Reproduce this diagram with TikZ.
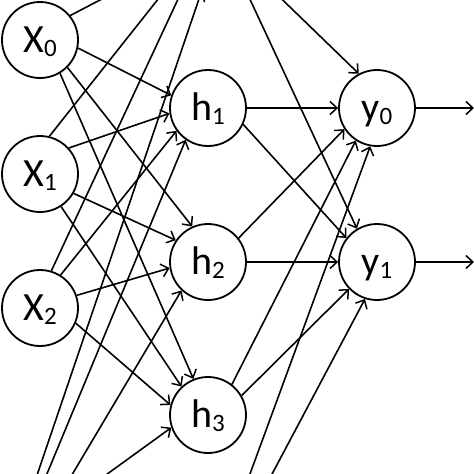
\documentclass[tikz,border=0pt]{standalone}
\usepackage{fontspec}
\setmainfont{Carlito}
\usetikzlibrary{arrows.meta}
\newcommand\lbl[2]{#1\raisebox{-4pt}{\fontsize{25}{25}\selectfont #2}}
\begin{document}
\begin{tikzpicture}[x=1pt,y=-1pt,
  neuron/.style={circle,draw,line width=1.8pt,minimum size=76pt,inner sep=0pt,
    font=\fontsize{40}{40}\selectfont,text height=24pt,text depth=0pt},
  conn/.style={line width=1.6pt,-{Straight Barb[length=7pt,width=13pt,line width=1.5pt]}}]
\useasboundingbox (0,0) rectangle (474,474);
\clip (0,0) rectangle (474,474);
% input layer
\node[neuron] (X0) at (40,40) {\lbl{X}{0}};
\node[neuron] (X1) at (40,174) {\lbl{X}{1}};
\node[neuron] (X2) at (40,308) {\lbl{X}{2}};
\node[neuron] (Xb) at (42,513) {};
% hidden layer
\node[neuron] (h0) at (208,-46) {};
\node[neuron] (h1) at (208,108) {\lbl{h}{1}};
\node[neuron] (h2) at (208,262) {\lbl{h}{2}};
\node[neuron] (h3) at (208,415) {\lbl{h}{3}};
\node[neuron] (h4) at (208,569) {};
% output layer
\node[neuron] (y0) at (377,108) {\lbl{y}{0}};
\node[neuron] (y1) at (377,262) {\lbl{y}{1}};
\coordinate (o0) at (474,108);
\coordinate (o1) at (474,262);
% input -> hidden
\draw[conn] (X0.39) -- (h0.194);
\draw[conn] (X0.-12) -- (h1.161);
\draw[conn] (X0.-45) -- (h2.114);
\draw[conn] (X0.-59) -- (h3.112);
\draw[conn] (X1.76) -- (h0.215);
\draw[conn] (X1.42) -- (h1.188);
\draw[conn] (X1.-30) -- (h2.146);
\draw[conn] (X1.-57) -- (h3.133);
\draw[conn] (X2.73) -- (h0.233);
\draw[conn] (X2.58) -- (h1.216);
\draw[conn] (X2.19) -- (h2.189);
\draw[conn] (X2.-23) -- (h3.165);
\draw[conn] (Xb.97) -- (h0.260);
\draw[conn] (Xb.83) -- (h1.235);
\draw[conn] (Xb.50) -- (h2.227);
\draw[conn] (Xb.26) -- (h3.199);
% hidden -> output
\draw[conn] (h0.-15) -- (y0.118);
\draw[conn] (h0.-36) -- (y1.121);
\draw[conn] (h1.0) -- (y0.180);
\draw[conn] (h1.-25) -- (y1.142);
\draw[conn] (h2.38) -- (y0.213);
\draw[conn] (h2.0) -- (y1.180);
\draw[conn] (h3.52) -- (y0.237);
\draw[conn] (h3.30) -- (y1.224);
\draw[conn] (h4.60) -- (y0.260);
\draw[conn] (h4.44) -- (y1.252);
% outputs
\draw[conn] (y0.0) -- (o0);
\draw[conn] (y1.0) -- (o1);
\end{tikzpicture}
\end{document}
